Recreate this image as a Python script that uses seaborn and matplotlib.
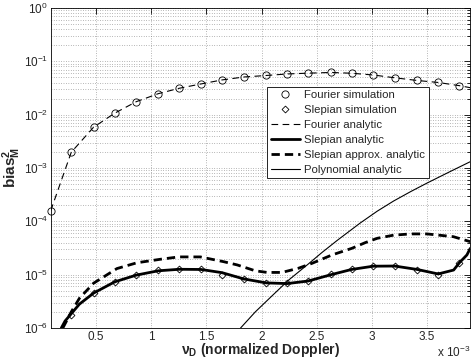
import matplotlib
matplotlib.use("Agg")
import matplotlib.pyplot as plt
import seaborn as sns
from matplotlib.ticker import LogLocator, NullFormatter

# values (x in units of 1e-3)
nu_sim = [0.09, 0.276, 0.478, 0.668, 0.865, 1.064, 1.254, 1.451, 1.641, 1.84,
          2.043, 2.233, 2.423, 2.631, 2.815, 3.012, 3.205, 3.41, 3.6, 3.793]
fourier_sim = [1.58e-4, 1.97e-3, 5.8e-3, 1.06e-2, 1.75e-2, 2.47e-2, 3.12e-2, 3.76e-2,
               4.47e-2, 5.08e-2, 5.42e-2, 5.79e-2, 5.99e-2, 6.18e-2, 5.97e-2, 5.54e-2,
               4.91e-2, 4.37e-2, 4.01e-2, 3.49e-2]
slepian_sim = [1.75e-6, 4.5e-6, 7.4e-6, 9.9e-6, 1.2e-5, 1.26e-5, 1.26e-5, 9.9e-6, 8.2e-6,
               6.9e-6, 6.9e-6, 7.6e-6, 1.02e-5, 1.26e-5, 1.45e-5, 1.45e-5, 1.22e-5,
               1.0e-5, 1.68e-5]

nu_fan = nu_sim + [3.89]
fourier_an = fourier_sim + [3.2e-2]

nu_slep = [0.186, 0.22, 0.276, 0.35, 0.478, 0.668, 0.865, 1.064, 1.254, 1.451, 1.641,
           1.84, 2.043, 2.233, 2.423, 2.631, 2.815, 3.012, 3.205, 3.41, 3.6, 3.74,
           3.793, 3.86, 3.89]
slepian_an = [1.0e-6, 1.35e-6, 1.85e-6, 2.8e-6, 4.5e-6, 7.3e-6, 9.8e-6, 1.18e-5, 1.26e-5,
              1.25e-5, 1.09e-5, 8.3e-6, 7.0e-6, 6.8e-6, 7.6e-6, 1.0e-5, 1.25e-5, 1.44e-5,
              1.45e-5, 1.25e-5, 1.03e-5, 1.22e-5, 1.68e-5, 2.34e-5, 3.1e-5]

nu_appr = [0.2, 0.276, 0.35, 0.478, 0.69, 0.871, 1.082, 1.25, 1.445, 1.656, 1.78, 1.943,
           2.05, 2.185, 2.335, 2.457, 2.638, 2.819, 2.939, 3.048, 3.196, 3.35, 3.498,
           3.737, 3.89]
slepian_appr = [1.0e-6, 2.0e-6, 3.6e-6, 6.9e-6, 1.3e-5, 1.67e-5, 1.94e-5, 2.15e-5, 2.15e-5,
                1.75e-5, 1.52e-5, 1.18e-5, 1.1e-5, 1.1e-5, 1.32e-5, 1.63e-5, 2.34e-5,
                3.12e-5, 3.98e-5, 4.8e-5, 5.5e-5, 5.8e-5, 5.8e-5, 5.15e-5, 4.15e-5]

nu_poly = [1.81, 1.943, 2.1, 2.245, 2.426, 2.547, 2.686, 2.894, 3.048, 3.196, 3.35,
           3.498, 3.7, 3.89]
poly_an = [1.0e-6, 2.0e-6, 4.1e-6, 7.9e-6, 1.6e-5, 2.6e-5, 4.4e-5, 9.3e-5, 1.55e-4,
           2.4e-4, 3.6e-4, 5.2e-4, 8.4e-4, 1.31e-3]

sns.set_style("white")
plt.rcParams['font.family'] = ['Liberation Sans', 'DejaVu Sans']
plt.rcParams['mathtext.fontset'] = 'custom'
plt.rcParams['mathtext.rm'] = 'Liberation Sans'
plt.rcParams['mathtext.it'] = 'Liberation Sans:italic'
plt.rcParams['mathtext.bf'] = 'Liberation Sans:bold'

fig = plt.figure(figsize=(4.74, 3.62), dpi=100)
ax = fig.add_axes([0.107, 0.094, 0.885, 0.884])

sns.lineplot(x=nu_sim, y=fourier_sim, ax=ax, color='k', linestyle='', marker='o',
             markersize=5.2, markerfacecolor='none', markeredgecolor='k',
             markeredgewidth=0.6, label='Fourier simulation', zorder=5, clip_on=False)
sns.lineplot(x=nu_sim[1:], y=slepian_sim, ax=ax, color='k', linestyle='', marker='D',
             markersize=3.5, markerfacecolor='none', markeredgecolor='k',
             markeredgewidth=0.6, label='Slepian simulation', zorder=5)
sns.lineplot(x=nu_fan, y=fourier_an, ax=ax, color='k', lw=0.8, linestyle=(0, (6, 4)),
             label='Fourier analytic', sort=False, estimator=None)
sns.lineplot(x=nu_slep, y=slepian_an, ax=ax, color='k', lw=2.0,
             label='Slepian analytic', sort=False, estimator=None)
sns.lineplot(x=nu_appr, y=slepian_appr, ax=ax, color='k', lw=2.0, linestyle=(0, (3, 1.8)),
             label='Slepian approx. analytic', sort=False, estimator=None)
sns.lineplot(x=nu_poly, y=poly_an, ax=ax, color='k', lw=0.8,
             label='Polynomial analytic', sort=False, estimator=None)

ax.set_yscale('log')
ax.set_ylim(1e-6, 1)
ax.set_xlim(0.09, 3.89)
ax.set_xticks([0.5, 1, 1.5, 2, 2.5, 3, 3.5])
ax.set_xticklabels(['0.5', '1', '1.5', '2', '2.5', '3', '3.5'])
ax.yaxis.set_major_locator(LogLocator(base=10, numticks=10))
ax.yaxis.set_minor_locator(LogLocator(base=10, subs=range(2, 10), numticks=10))
ax.yaxis.set_minor_formatter(NullFormatter())

ax.tick_params(which='both', direction='in', top=True, right=True, labelsize=8.5,
               color='k', width=0.6, pad=2)
ax.tick_params(which='major', length=4)
ax.tick_params(which='minor', length=2)
grid_kw = dict(linestyle=(0, (1, 2.5)), color='0.45', lw=0.5)
ax.grid(True, which='major', axis='both', **grid_kw)
ax.grid(True, which='minor', axis='y', **grid_kw)
for s in ax.spines.values():
    s.set_color('k')
    s.set_linewidth(0.6)

ax.set_xlabel('ν$_\\mathbf{D}$ (normalized Doppler)', fontsize=10, fontweight='bold',
              labelpad=-1)
ax.set_ylabel(r'$\mathbf{bias}^{\mathbf{2}}_{\mathbf{M}}$', fontsize=11)
ax.yaxis.set_label_coords(-0.067, 0.5)
fig.text(0.922, 0.014, r'x 10$^{-3}$', fontsize=8.5, va='baseline')

h, l = ax.get_legend_handles_labels()
leg = ax.legend(h, l, loc='upper left', bbox_to_anchor=(0.516, 0.753), borderaxespad=0,
                fontsize=8.2, labelspacing=0.43, handlelength=2.6, handletextpad=0.35,
                borderpad=0.3, fancybox=False, framealpha=1, edgecolor='k')
leg.get_frame().set_linewidth(0.6)

fig.savefig('out.png', dpi=100)
